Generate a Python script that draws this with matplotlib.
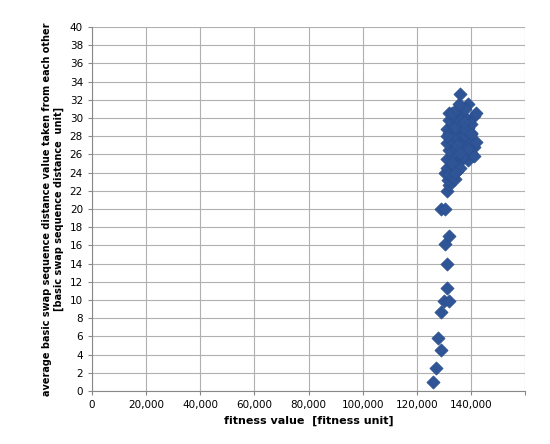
import matplotlib
matplotlib.use("Agg")
import matplotlib.pyplot as plt
from matplotlib.ticker import FuncFormatter, MultipleLocator

fitness = [126000,127000,129000,128000,129000,130000,132000,131000,131000,130500,132000,129000,130500,
           131000,132000,131500,133000,130500,131000,132000,134000,133000,135000,134000,136000,
           131000,133000,135000,137000,139000,132000,134000,136000,138000,140000,
           131000,133000,135000,137000,139000,141000,132000,134000,136000,138000,140000,142000,
           131000,133000,135000,137000,139000,141000,132000,134000,136000,138000,140000,
           131000,133000,135000,137000,139000,141000,132000,134000,136000,138000,142000,
           133000,135000,137000,139000,134000,136000,138000,135500,137500,140000,136000]
distance = [1.0,2.5,4.5,5.8,8.7,9.9,9.9,11.3,14.0,16.1,17.0,20.0,20.0,
            22.0,22.6,23.2,23.5,24.0,24.5,23.8,23.3,24.8,24.2,25.2,24.5,
            25.5,25.8,26.0,25.6,25.4,26.5,26.8,27.0,26.4,26.2,
            27.2,27.5,27.8,27.3,27.6,26.8,28.3,28.0,28.5,28.1,28.4,27.4,
            28.8,29.2,29.0,29.5,28.9,30.2,29.8,30.1,30.5,30.0,29.3,
            28.0,25.0,27.0,25.8,26.6,25.8,30.5,29.0,26.2,28.8,30.6,
            30.6,31.0,30.2,31.5,24.0,29.7,31.0,31.5,29.6,28.2,32.6]

fig = plt.figure(figsize=(5.5,4.44), dpi=100)
ax = fig.add_axes([92/550, 53/444, 433/550, 364/444])
ax.scatter(fitness, distance, marker='D', s=45, color='#2f5597', edgecolors='#2a4f8f', linewidths=0.5, zorder=3)
ax.set_xlim(0,160000); ax.set_ylim(0,40)
ax.xaxis.set_major_locator(MultipleLocator(20000))
ax.yaxis.set_major_locator(MultipleLocator(2))
ax.xaxis.set_major_formatter(FuncFormatter(lambda v,p: "" if v >= 160000 else f"{int(v):,}"))
ax.grid(True, color='#b0b0b0', linewidth=0.8)
ax.set_axisbelow(True)
for s in ['top','right']:
    ax.spines[s].set_visible(False)
for s in ['left','bottom']:
    ax.spines[s].set_color('#888888')
ax.tick_params(labelsize=7.5, length=3, color='#888888')
ax.set_xlabel("fitness value  [fitness unit]", fontsize=8, fontweight='bold')
ax.set_ylabel("average basic swap sequence distance value taken from each other\n[basic swap sequence distance  unit]", fontsize=7, fontweight='bold')
fig.savefig("out.png", dpi=100)
